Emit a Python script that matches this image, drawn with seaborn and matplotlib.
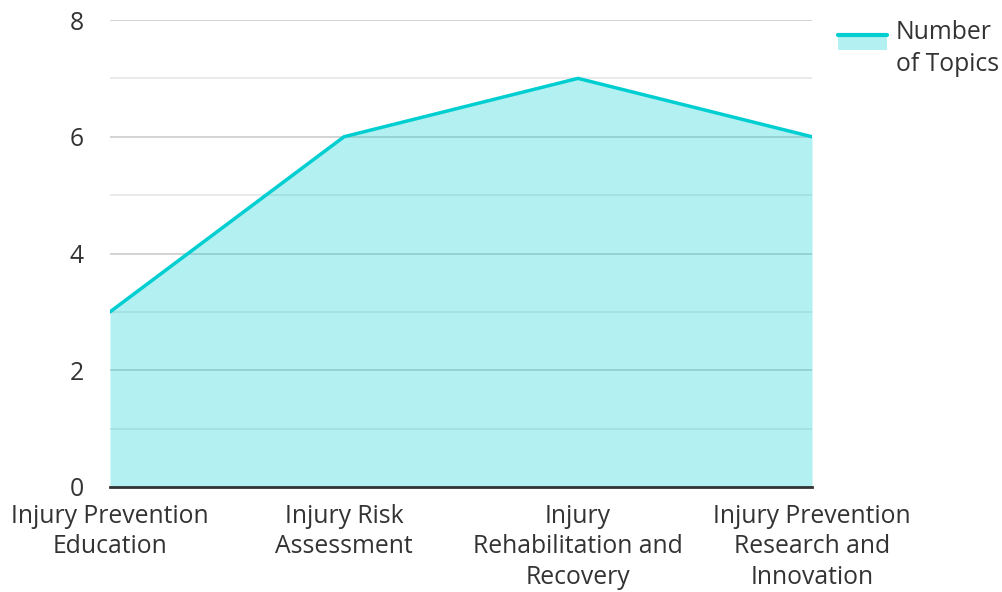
import matplotlib
matplotlib.use("Agg")
import matplotlib.pyplot as plt
import seaborn as sns
import pandas as pd
from matplotlib.patches import Rectangle
from matplotlib.lines import Line2D
from matplotlib.legend_handler import HandlerBase

categories = ["Injury Prevention\nEducation", "Injury Risk\nAssessment",
              "Injury\nRehabilitation and\nRecovery", "Injury Prevention\nResearch and\nInnovation"]
values = [3, 6, 7, 6]
series_name = "Number\nof Topics"
yticks = [0, 2, 4, 6, 8]

LINE = "#00CED1"
TEXT = "#333333"
FS = 17.8

sns.set_theme(style="white")
plt.rcParams['font.family'] = ['Open Sans', 'DejaVu Sans']

fig = plt.figure(figsize=(10.02, 5.92), dpi=100)
ax = fig.add_axes([110/1002, 1-487/592, (812-110)/1002, (487-20)/592])

x = list(range(len(categories)))
ax.fill_between(x, values, 0, color=LINE, alpha=0.3, linewidth=0, zorder=2)
sns.lineplot(x=x, y=values, ax=ax, color=LINE, linewidth=2.5, zorder=3)

ax.set_xlim(0, len(categories) - 1)
ax.set_ylim(0, 8)
ax.set_yticks(yticks)
ax.set_yticks([1, 3, 5, 7], minor=True)
ax.set_xticks(x)
ax.set_xticklabels(categories, linespacing=1.3)
ax.tick_params(axis='x', length=0, pad=12, labelsize=FS, colors=TEXT)
ax.tick_params(axis='y', which='both', length=0, pad=19, labelsize=FS, colors=TEXT)
ax.grid(True, which='major', axis='y', color='#cccccc', linewidth=1.2, zorder=1)
ax.grid(True, which='minor', axis='y', color='#e6e6e6', linewidth=1.2, zorder=1)
ax.set_axisbelow(True)
for s in ['top', 'right', 'left']:
    ax.spines[s].set_visible(False)
ax.spines['bottom'].set_color('#333333')
ax.spines['bottom'].set_linewidth(2)
ax.spines['bottom'].set_zorder(4)
ax.set_xlabel("")
ax.set_ylabel("")


class AreaHandler(HandlerBase):
    def create_artists(self, legend, orig_handle, xdescent, ydescent, width, height, fontsize, trans):
        top = -ydescent + height
        r = Rectangle((-xdescent, top - 0.7 * fontsize), width, 0.6 * fontsize, facecolor=LINE, alpha=0.3,
                      edgecolor='none', transform=trans)
        l = Line2D([-xdescent, -xdescent + width], [top - 0.1 * fontsize] * 2,
                   color=LINE, linewidth=3, transform=trans)
        return [r, l]


handle = Rectangle((0, 0), 1, 1)
leg = fig.legend([handle], [series_name], handler_map={Rectangle: AreaHandler()},
                 loc='upper left', bbox_to_anchor=(838/1002, 1-20/592), frameon=False,
                 fontsize=FS, handlelength=2.0, handleheight=1.75, handletextpad=0.35,
                 borderaxespad=0, borderpad=0)
for t in leg.get_texts():
    t.set_color(TEXT)
    t.set_linespacing(1.36)

fig.savefig("out.png", dpi=100)
